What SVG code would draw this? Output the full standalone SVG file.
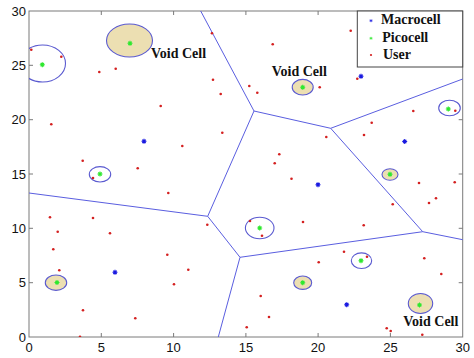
<svg xmlns="http://www.w3.org/2000/svg" width="474" height="358" viewBox="0 0 474 358">
<style>
.ax{fill:none;stroke:#7a7a7a;stroke-width:1}
.tk{stroke:#7a7a7a;stroke-width:1}
.tl{font-family:"Liberation Sans",Arial,sans-serif;font-size:13px;fill:#111}
.vor{fill:none;stroke:#5a5ee0;stroke-width:1}
.pc{fill:none;stroke:#5a5ad0;stroke-width:1.1}
.void{fill:#ecdfb2;stroke:#5a5ad0;stroke-width:1.1}
.mac{stroke:#1a1ae0;stroke-width:1.1;fill:none}
.pic{stroke:#2ee82e;stroke-width:1.1;fill:none}
.usr{fill:#d42020}
.lbl{font-family:"Liberation Serif","Times New Roman",serif;font-size:14px;font-weight:bold;fill:#111}
</style>
<defs>
<path id="ast" d="M-2.5,0H2.5M0,-2.5V2.5M-1.7,-1.7L1.7,1.7M-1.7,1.7L1.7,-1.7"/>
<clipPath id="plot"><rect x="29" y="11" width="433.7" height="326"/></clipPath>
</defs>
<rect width="474" height="358" fill="#fff"/>

<g id="axes">
<rect class="ax" x="29" y="11" width="433.7" height="326"/>
<path class="tk" d="M101.3,337v-4M173.6,337v-4M245.9,337v-4M318.1,337v-4M390.4,337v-4M101.3,11v4M173.6,11v4M245.9,11v4M318.1,11v4M390.4,11v4M29,282.7h4M29,228.3h4M29,174h4M29,119.7h4M29,65.3h4M462.7,282.7h-4M462.7,228.3h-4M462.7,174h-4M462.7,119.7h-4M462.7,65.3h-4"/>
<g class="tl" text-anchor="end">
<text x="26" y="15.6">30</text>
<text x="26" y="69.9">25</text>
<text x="26" y="124.2">20</text>
<text x="26" y="178.6">15</text>
<text x="26" y="232.9">10</text>
<text x="26" y="287.2">5</text>
<text x="26" y="341.6">0</text>
</g>
<g class="tl" text-anchor="middle">
<text x="29" y="351.5">0</text>
<text x="101.3" y="351.5">5</text>
<text x="173.6" y="351.5">10</text>
<text x="245.9" y="351.5">15</text>
<text x="318.1" y="351.5">20</text>
<text x="390.4" y="351.5">25</text>
<text x="462.7" y="351.5">30</text>
</g>
</g>

<g id="connectors" class="vor">
<path d="M200.7,11L254,111"/>
<path d="M254,111L330.7,128.3"/>
<path d="M330.7,128.3L462.7,79"/>
<path d="M330.7,128.3L422.7,231.7"/>
<path d="M422.7,231.7L462.7,239.7"/>
<path d="M422.7,231.7L240,257.3"/>
<path d="M240,257.3L218.3,337"/>
<path d="M240,257.3L207.7,216.3"/>
<path d="M207.7,216.3L29,193"/>
<path d="M207.7,216.3L254,111"/>
</g>

<g clip-path="url(#plot)">
<g id="pico-1-25"><ellipse class="pc" cx="42.5" cy="63.5" rx="23" ry="18.5"/><use href="#ast" x="42.3" y="64.7" class="pic"/></g>
<g id="pico-7-27"><ellipse class="void" cx="129.5" cy="40.5" rx="23" ry="16.5"/><use href="#ast" x="130" y="43.3" class="pic"/></g>
<g id="pico-5-15"><ellipse class="pc" cx="100" cy="174.3" rx="10.7" ry="7.7"/><use href="#ast" x="100" y="174" class="pic"/></g>
<g id="pico-19-23"><ellipse class="void" cx="302.7" cy="87.2" rx="10.5" ry="7.8"/><use href="#ast" x="302.7" y="87.3" class="pic"/></g>
<g id="pico-29-21"><ellipse class="pc" cx="449.5" cy="108" rx="10.8" ry="7.8"/><use href="#ast" x="448.3" y="109" class="pic"/></g>
<g id="pico-25-15"><ellipse class="void" cx="390" cy="174.5" rx="8" ry="5.8"/><use href="#ast" x="390" y="174.3" class="pic"/></g>
<g id="pico-16-10"><ellipse class="pc" cx="259.7" cy="228" rx="14.3" ry="10.7"/><use href="#ast" x="259.7" y="228" class="pic"/></g>
<g id="pico-23-7"><ellipse class="pc" cx="361.5" cy="260.7" rx="10.2" ry="7.8"/><use href="#ast" x="361" y="260.7" class="pic"/></g>
<g id="pico-2-5"><ellipse class="void" cx="56" cy="282.7" rx="10.7" ry="7.7"/><use href="#ast" x="57" y="282.5" class="pic"/></g>
<g id="pico-19-5"><ellipse class="void" cx="302.7" cy="282.7" rx="9" ry="6.7"/><use href="#ast" x="302.7" y="282.7" class="pic"/></g>
<g id="pico-27-3"><ellipse class="void" cx="420.5" cy="303.5" rx="12.2" ry="10"/><use href="#ast" x="419.5" y="305" class="pic"/></g>

<g id="macro-8-18"><use href="#ast" x="144" y="141.3" class="mac"/></g>
<g id="macro-23-24"><use href="#ast" x="361" y="76.3" class="mac"/></g>
<g id="macro-26-18"><use href="#ast" x="404.7" y="141.5" class="mac"/></g>
<g id="macro-20-14"><use href="#ast" x="318" y="184.7" class="mac"/></g>
<g id="macro-6-6"><use href="#ast" x="115" y="272.3" class="mac"/></g>
<g id="macro-22-3"><use href="#ast" x="346.7" y="304.7" class="mac"/></g>

<g id="users" class="usr">
<circle cx="31.3" cy="49.7" r="1.3"/><circle cx="61.3" cy="56.7" r="1.3"/><circle cx="99.3" cy="72" r="1.3"/><circle cx="115.7" cy="68.7" r="1.3"/>
<circle cx="212" cy="33.3" r="1.3"/><circle cx="213" cy="79.7" r="1.3"/><circle cx="220.7" cy="94" r="1.3"/><circle cx="160.7" cy="106" r="1.3"/>
<circle cx="51.3" cy="124.3" r="1.3"/><circle cx="222.3" cy="132.7" r="1.3"/><circle cx="182.3" cy="146" r="1.3"/><circle cx="82.7" cy="160.7" r="1.3"/>
<circle cx="137.7" cy="168.3" r="1.3"/><circle cx="93" cy="178" r="1.3"/>
<circle cx="350.7" cy="30.7" r="1.3"/><circle cx="272.7" cy="44.3" r="1.3"/><circle cx="249.3" cy="86" r="1.3"/><circle cx="257.3" cy="92.7" r="1.3"/>
<circle cx="319.7" cy="87.3" r="1.3"/><circle cx="357.3" cy="78.7" r="1.3"/><circle cx="413.3" cy="111" r="1.3"/><circle cx="455.3" cy="110.7" r="1.3"/>
<circle cx="371.7" cy="122.7" r="1.3"/><circle cx="364" cy="135" r="1.3"/><circle cx="326.3" cy="137" r="1.3"/><circle cx="279.3" cy="154.3" r="1.3"/>
<circle cx="274.7" cy="163.3" r="1.3"/><circle cx="291.5" cy="178.8" r="1.3"/>
<circle cx="168.3" cy="193" r="1.3"/><circle cx="50" cy="217.3" r="1.3"/><circle cx="93" cy="218" r="1.3"/><circle cx="57.7" cy="231.7" r="1.3"/>
<circle cx="110" cy="233.3" r="1.3"/><circle cx="207.3" cy="224.7" r="1.3"/><circle cx="53.3" cy="249.3" r="1.3"/><circle cx="167.3" cy="254.7" r="1.3"/>
<circle cx="59.3" cy="270.3" r="1.3"/><circle cx="188.3" cy="269.7" r="1.3"/><circle cx="174" cy="284.3" r="1.3"/><circle cx="83" cy="310.3" r="1.3"/>
<circle cx="135.3" cy="318.3" r="1.3"/><circle cx="80" cy="336.7" r="1.3"/>
<circle cx="419" cy="183" r="1.3"/><circle cx="454.7" cy="182.3" r="1.3"/><circle cx="392.7" cy="204.3" r="1.3"/><circle cx="429" cy="203" r="1.3"/>
<circle cx="436" cy="198.3" r="1.3"/><circle cx="250" cy="221" r="1.3"/><circle cx="262" cy="235.7" r="1.3"/><circle cx="303" cy="222" r="1.3"/>
<circle cx="363.7" cy="225.3" r="1.3"/><circle cx="344" cy="251.7" r="1.3"/><circle cx="367" cy="256.7" r="1.3"/><circle cx="318.7" cy="262.3" r="1.3"/>
<circle cx="424.3" cy="258.3" r="1.3"/><circle cx="441.3" cy="274" r="1.3"/><circle cx="260.7" cy="296" r="1.3"/><circle cx="269" cy="317" r="1.3"/>
<circle cx="246.7" cy="327.3" r="1.3"/><circle cx="386.7" cy="328.3" r="1.3"/><circle cx="390.7" cy="331" r="1.3"/><circle cx="422.3" cy="334.7" r="1.3"/>
</g>
</g>

<g id="labels" class="lbl">
<text x="151" y="57.7">Void Cell</text>
<text x="271.7" y="75.7">Void Cell</text>
<text x="403.3" y="325.7">Void Cell</text>
</g>

<g id="legend">
<rect x="357.3" y="11" width="105.4" height="56" fill="#fff" stroke="#444" stroke-width="1"/>
<g transform="translate(371 20.7) scale(0.6)"><use href="#ast" class="mac"/></g>
<g transform="translate(371 38.3) scale(0.6)"><use href="#ast" class="pic"/></g>
<circle cx="371" cy="55" r="1.1" class="usr"/>
<text class="lbl" x="381" y="24.3">Macrocell</text>
<text class="lbl" x="382.3" y="42.3">Picocell</text>
<text class="lbl" x="383" y="59.3">User</text>
</g>
</svg>
